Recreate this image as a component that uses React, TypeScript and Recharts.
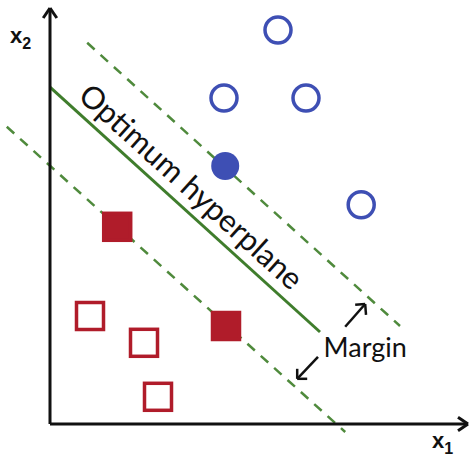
import { ScatterChart, Scatter, XAxis, YAxis, ReferenceLine } from 'recharts'

// data units: 1 unit = 40px, origin at the axis corner
const blueOpen = [
  { x: 5.7, y: 9.85 },
  { x: 4.35, y: 8.15 },
  { x: 6.4, y: 8.15 },
  { x: 7.78, y: 5.48 },
]
const blueSupport = [{ x: 4.38, y: 6.45 }]
const redSupport = [
  { x: 1.68, y: 4.93 },
  { x: 4.4, y: 2.45 },
]
const redOpen = [
  { x: 1.0, y: 2.7 },
  { x: 2.35, y: 2.03 },
  { x: 2.7, y: 0.68 },
]

const hyperplane = [{ x: 0, y: 8.42 }, { x: 6.75, y: 2.3 }]
const upperMargin = [{ x: 0.93, y: 9.53 }, { x: 8.75, y: 2.45 }]
const lowerMargin = [{ x: -1.08, y: 7.43 }, { x: 7.38, y: -0.2 }]

const yAxisLine = [{ x: 0, y: 0 }, { x: 0, y: 10.4 }]
const xAxisLine = [{ x: 0, y: 0 }, { x: 10.45, y: 0 }]
const yArrow = [{ x: -0.17, y: 10.15 }, { x: 0, y: 10.4 }, { x: 0.17, y: 10.15 }]
const xArrow = [{ x: 10.2, y: 0.17 }, { x: 10.45, y: 0 }, { x: 10.2, y: -0.17 }]

const marginUp = [{ x: 7.38, y: 2.43 }, { x: 7.88, y: 3.0 }]
const marginUpHead = [{ x: 7.63, y: 2.98 }, { x: 7.88, y: 3.0 }, { x: 7.9, y: 2.73 }]
const marginDown = [{ x: 6.7, y: 1.68 }, { x: 6.18, y: 1.13 }]
const marginDownHead = [{ x: 6.18, y: 1.38 }, { x: 6.18, y: 1.13 }, { x: 6.43, y: 1.13 }]

const labels = {
  hyperplane: [{ x: 3.53, y: 5.93, text: 'Optimum hyperplane' }],
  margin: [{ x: 7.88, y: 1.68, text: 'Margin' }],
  x2: [{ x: -1.0, y: 9.53, text: 'x', sub: '2' }],
  x1: [{ x: 9.55, y: -0.6, text: 'x', sub: '1' }],
}

const BLUE = '#3e4fb4'
const RED = '#b01c2a'
const GREEN = '#3f7d2c'
const GREEN_DASH = '#4f8a3c'
const FONT = 'Lato, "Open Sans", sans-serif'

type P = { x: number; y: number }

const seg = (pts: P[], key: string, stroke: string, width: number, dash?: string) =>
  pts.slice(1).map((p, i) => (
    <ReferenceLine
      key={key + i}
      segment={[pts[i], p]}
      stroke={stroke}
      strokeWidth={width}
      strokeDasharray={dash}
      strokeLinecap="butt"
      ifOverflow="visible"
    />
  ))

const circle = (filled: boolean) => (props: any) => (
  <circle
    cx={props.cx}
    cy={props.cy}
    r={filled ? 14 : 13}
    fill={filled ? BLUE : '#fff'}
    stroke={BLUE}
    strokeWidth={filled ? 0 : 3.5}
  />
)

const square = (filled: boolean) => (props: any) => (
  <rect
    x={props.cx - 13.5}
    y={props.cy - 13.5}
    width={27}
    height={27}
    fill={filled ? RED : '#fff'}
    stroke={RED}
    strokeWidth={3.5}
  />
)

const HyperLabel = (props: any) => (
  <text
    x={props.cx}
    y={props.cy}
    dy="0.35em"
    textAnchor="middle"
    transform={`rotate(42.1 ${props.cx} ${props.cy})`}
    fontFamily={FONT}
    fontSize={31}
    fill="#111"
  >
    {props.payload.text}
  </text>
)

const MarginLabel = (props: any) => (
  <text x={props.cx} y={props.cy} textAnchor="middle" fontFamily={FONT} fontSize={27} fill="#111">
    {props.payload.text}
  </text>
)

const AxisLabel = (props: any) => (
  <text x={props.cx} y={props.cy} fontFamily='"Liberation Sans", Arial, sans-serif' fill="#111">
    <tspan fontSize={22} fontWeight="bold">{props.payload.text}</tspan>
    <tspan fontSize={16} fontWeight="bold" dy={6}>{props.payload.sub}</tspan>
  </text>
)

export default function App() {
  return (
    <div style={{ position: 'absolute', left: 0, top: 0, background: '#fff' }}>
      <ScatterChart width={474} height={460} margin={{ top: 0, right: 0, bottom: 0, left: 0 }}>
        <XAxis type="number" dataKey="x" domain={[-1.25, 10.6]} hide allowDataOverflow />
        <YAxis type="number" dataKey="y" domain={[-0.9, 10.6]} hide allowDataOverflow />

        {seg(lowerMargin, 'lm', GREEN_DASH, 2.5, '10 8')}
        {seg(upperMargin, 'um', GREEN_DASH, 2.5, '10 8')}
        {seg(hyperplane, 'hp', GREEN, 3)}

        {seg(yAxisLine, 'ya', '#111', 3)}
        {seg(xAxisLine, 'xa', '#111', 3)}
        {seg(yArrow, 'yh', '#111', 3)}
        {seg(xArrow, 'xh', '#111', 3)}

        {seg(marginUp, 'mu', '#111', 2.5)}
        {seg(marginUpHead, 'muh', '#111', 2.5)}
        {seg(marginDown, 'md', '#111', 2.5)}
        {seg(marginDownHead, 'mdh', '#111', 2.5)}

        <Scatter data={blueOpen} shape={circle(false)} isAnimationActive={false} />
        <Scatter data={blueSupport} shape={circle(true)} isAnimationActive={false} />
        <Scatter data={redOpen} shape={square(false)} isAnimationActive={false} />
        <Scatter data={redSupport} shape={square(true)} isAnimationActive={false} />

        <Scatter data={labels.hyperplane} shape={HyperLabel} isAnimationActive={false} />
        <Scatter data={labels.margin} shape={MarginLabel} isAnimationActive={false} />
        <Scatter data={labels.x2} shape={AxisLabel} isAnimationActive={false} />
        <Scatter data={labels.x1} shape={AxisLabel} isAnimationActive={false} />
      </ScatterChart>
    </div>
  )
}
